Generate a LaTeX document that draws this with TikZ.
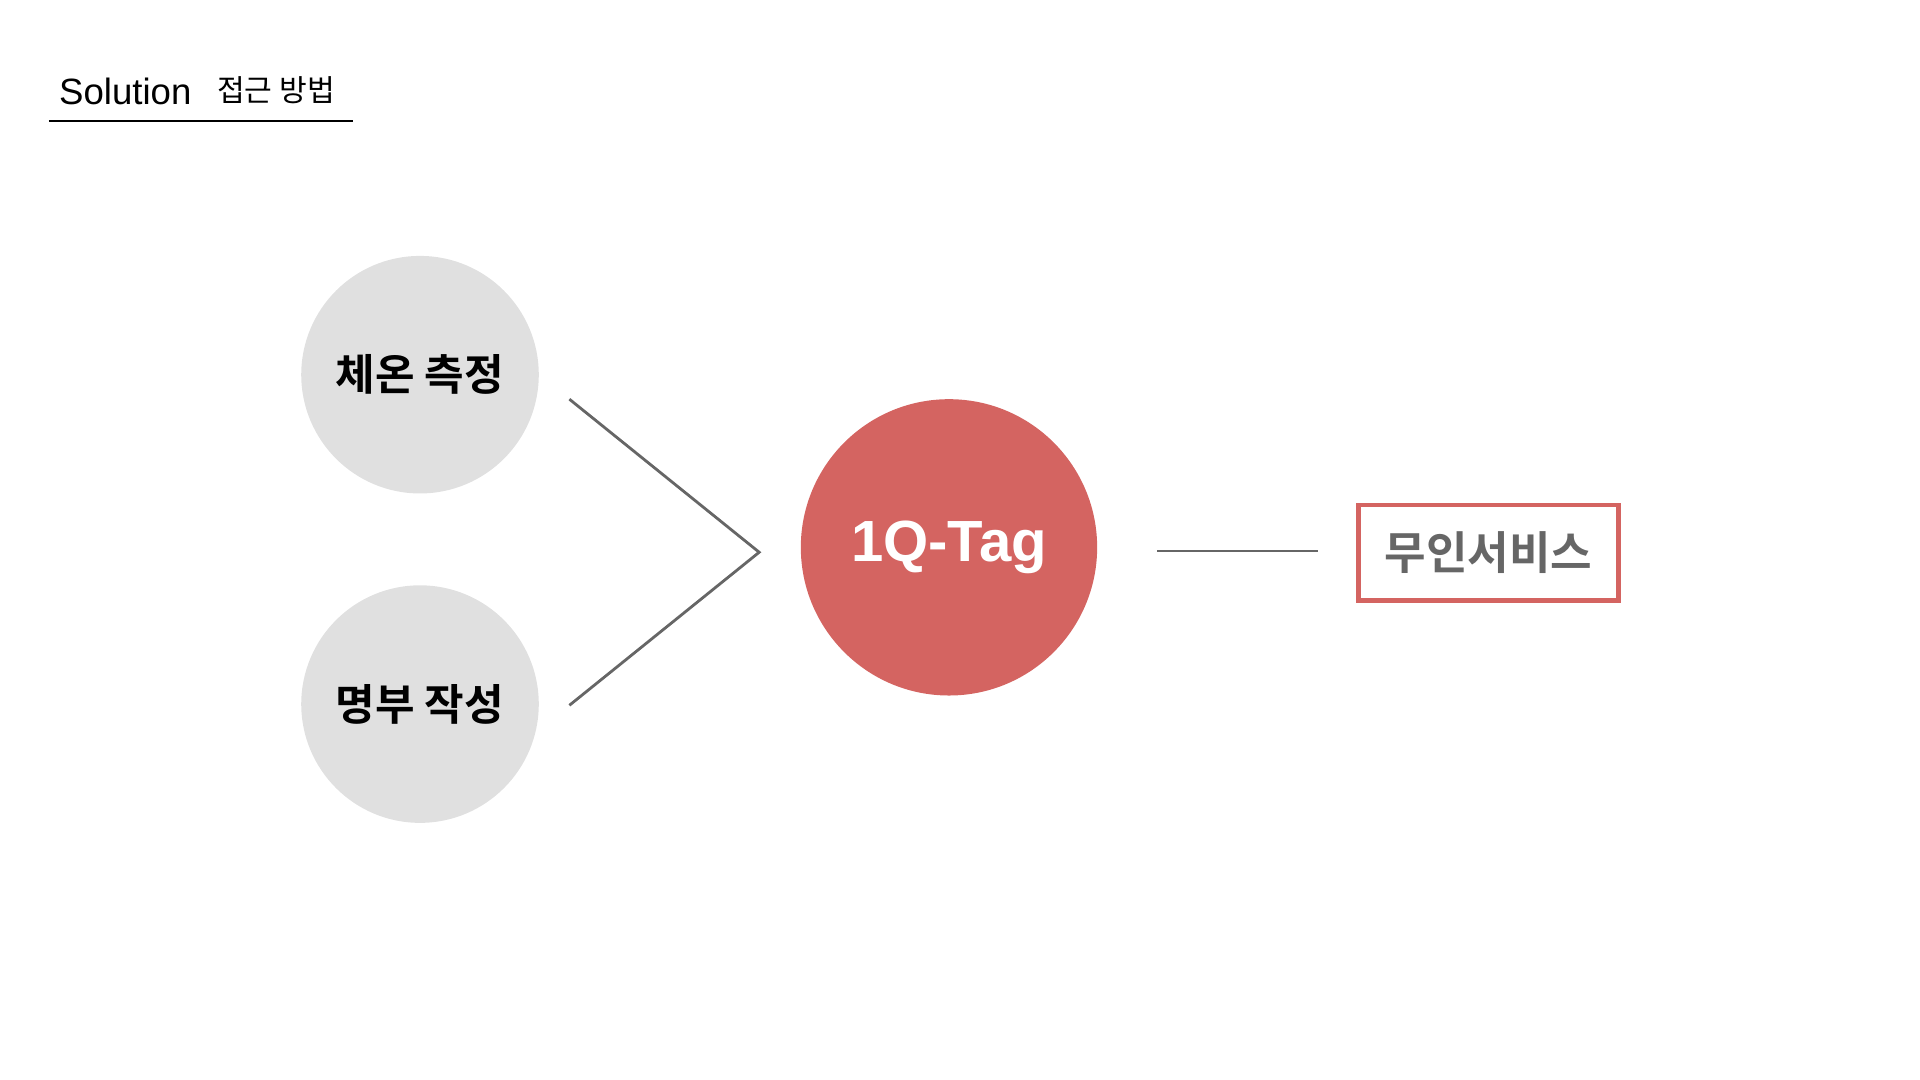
\documentclass[tikz,border=0pt]{standalone}
\usepackage{fontspec}
\setmainfont{Liberation Sans}
\newfontfamily\kr{Noto Sans CJK KR}
\newfontfamily\krb{Noto Sans CJK KR Bold}
\definecolor{lgray}{HTML}{E0E0E0}
\definecolor{myred}{HTML}{D46461}
\definecolor{lnc}{HTML}{666666}
\begin{document}
\begin{tikzpicture}[x=0.02cm,y=-0.02cm,
  gcirc/.style={circle,fill=lgray,minimum size=194*0.02cm,inner sep=0pt,font=\krb\fontsize{20}{24}\selectfont},
  conn/.style={draw=lnc,line width=1.3pt}]
\useasboundingbox (0,0) rectangle (1568,882);
\node[anchor=west,inner sep=0pt,font=\fontsize{17}{20}\selectfont] (sol) at (48,75) {Solution};
\node[anchor=west,inner sep=0pt,font=\kr\fontsize{14}{17}\selectfont] (ap) at (177,74) {접근 방법};
\coordinate (u1) at (40,99); \coordinate (u2) at (288,99);
\draw[line width=1pt] (u1) -- (u2);
\node[gcirc] (c1) at (343,306) {체온 측정};
\node[gcirc] (c2) at (343,575) {명부 작성};
\node[circle,fill=myred,minimum size=242*0.02cm,inner sep=0pt,text=white,font=\bfseries\fontsize{27}{32}\selectfont] (tag) at (775,447) {1Q-Tag};
\coordinate (a1) at (465,326); \coordinate (m) at (620,451); \coordinate (a2) at (465,576);
\draw[conn] (a1) -- (m) -- (a2);
\coordinate (b1) at (945,450); \coordinate (b2) at (1076,450);
\draw[conn] (b1) -- (b2);
\node[draw=myred,line width=2.2pt,minimum width=212*0.02cm,minimum height=78*0.02cm,text=lnc,font=\krb\fontsize{21}{25}\selectfont] (svc) at (1215.5,451.5) {무인서비스};
\end{tikzpicture}
\end{document}
